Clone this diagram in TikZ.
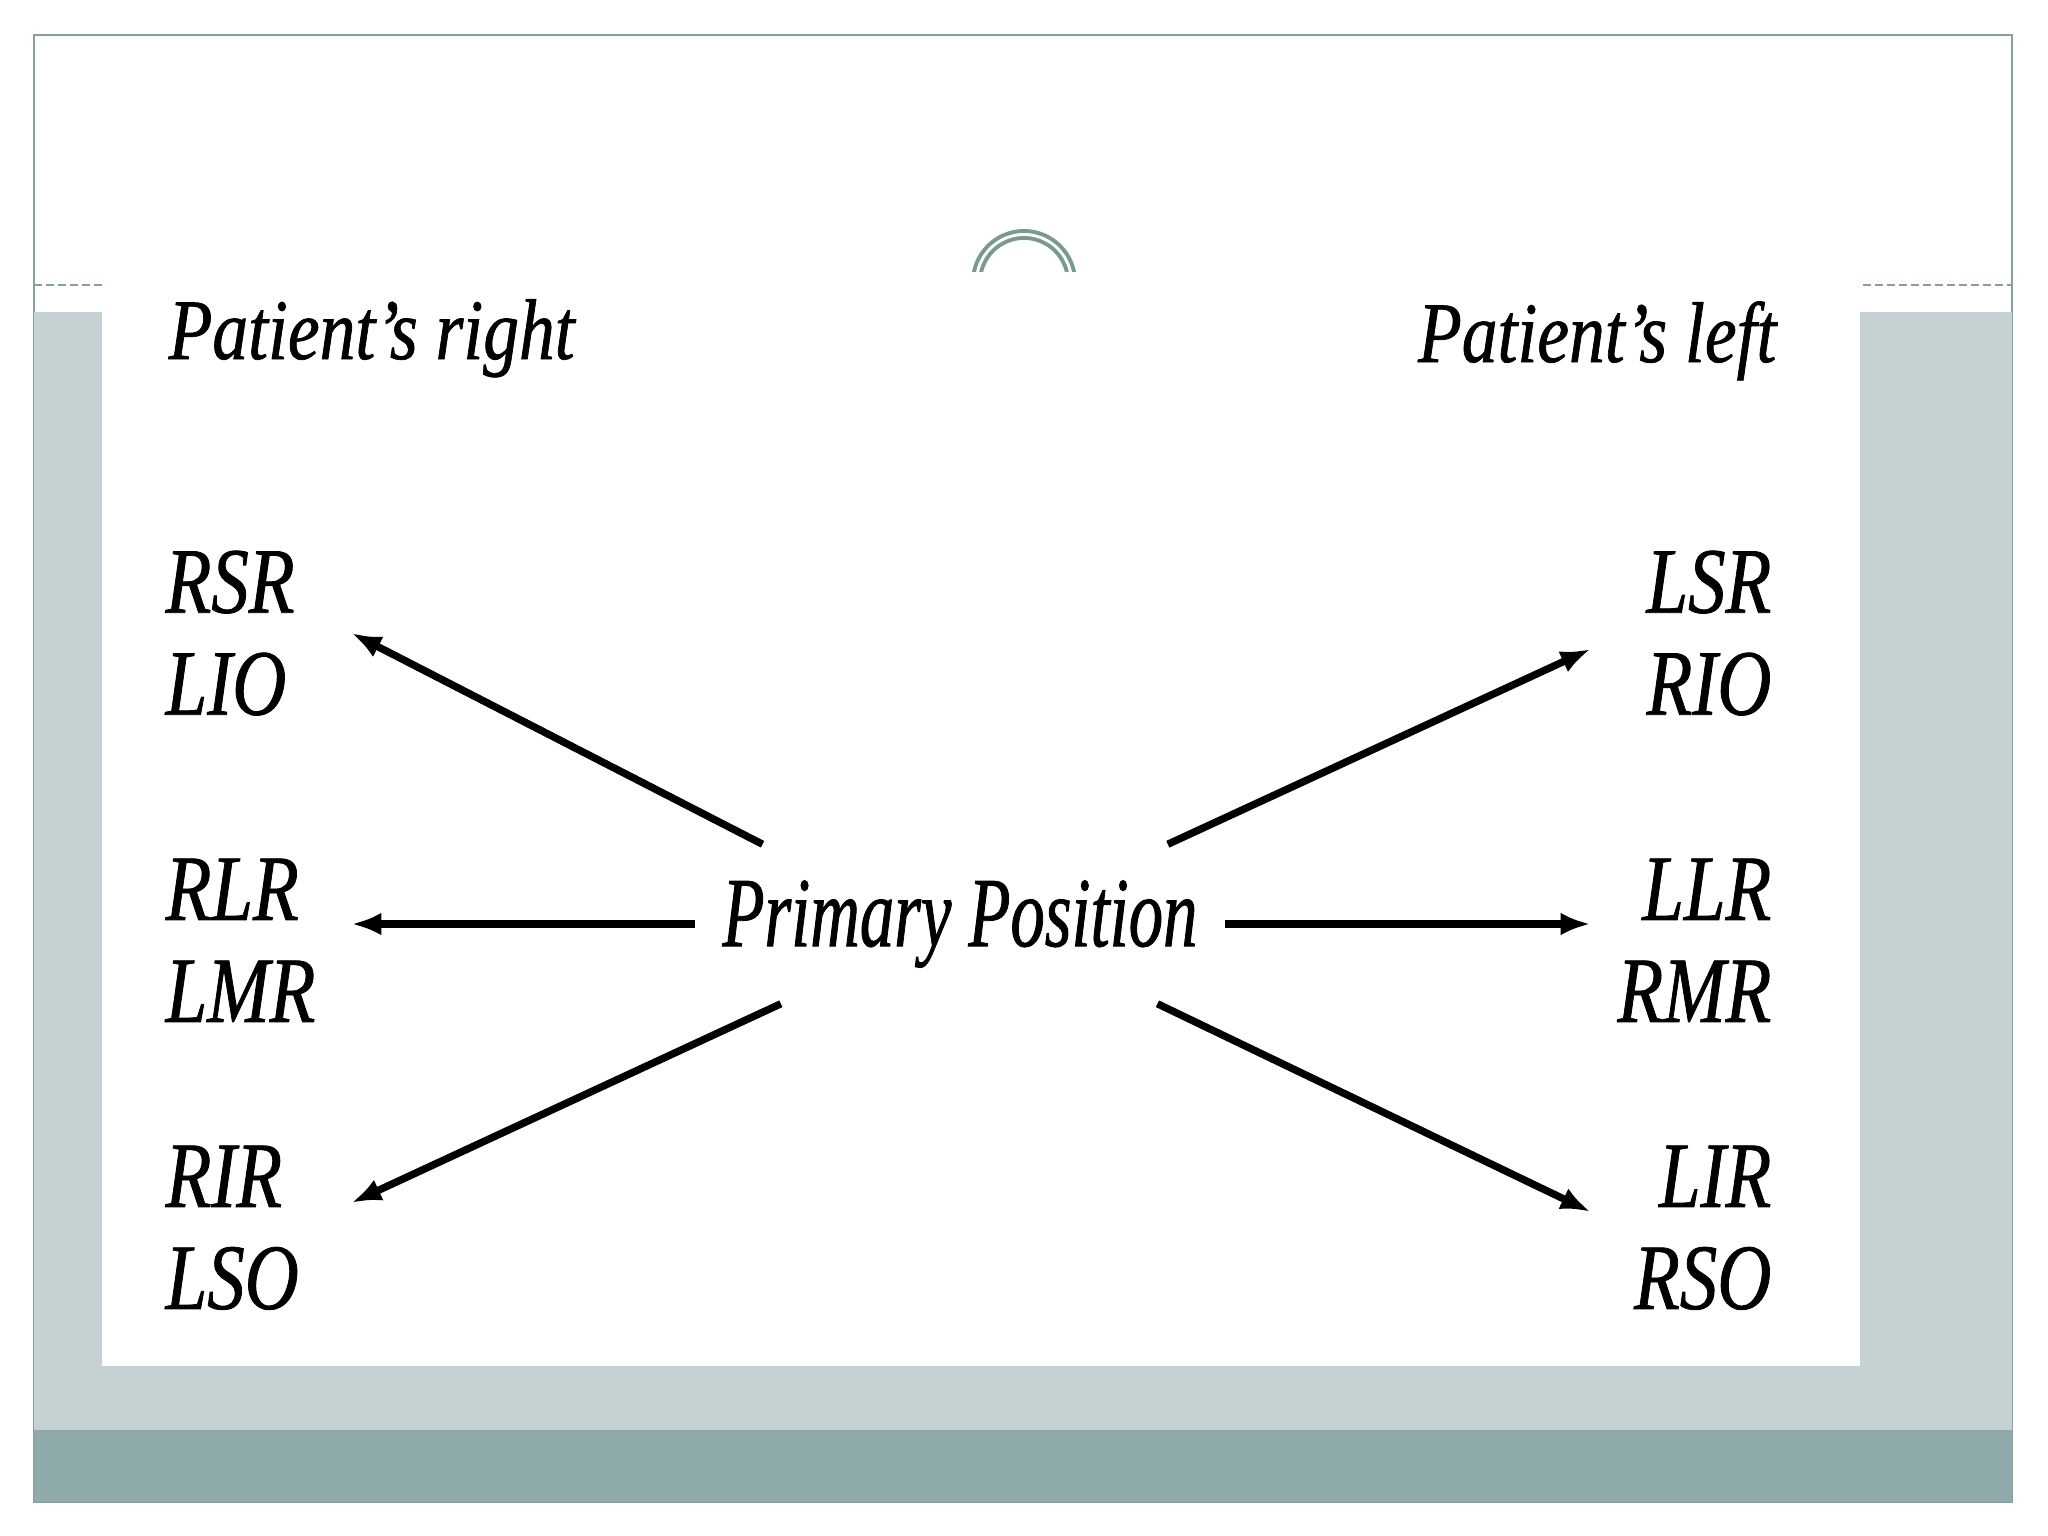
\documentclass[tikz,border=0pt]{standalone}
\usepackage{fontspec}
\setmainfont{Liberation Serif}
\newfontfamily\labelfont[FakeStretch=0.80, FakeBold=0.8]{Liberation Serif}
\newfontfamily\headfont[FakeStretch=0.83, FakeBold=0.8]{Liberation Serif}
\newfontfamily\ppfont[FakeStretch=0.69, FakeBold=0.8]{Liberation Serif}
\usetikzlibrary{arrows.meta}
\definecolor{slidegrey}{HTML}{C5D1D3}
\definecolor{slideteal}{HTML}{8EAAAB}
\definecolor{slideline}{HTML}{8A9E9C}
\definecolor{slidearc}{HTML}{7A9A90}

\begin{document}
\begin{tikzpicture}[x=0.01cm, y=-0.01cm,
        every node/.style={inner sep=0pt, font=\labelfont\itshape\fontsize{26.6}{29}\selectfont},
        pairl/.style={text width=1.85cm, align=left, anchor=north west},
        pairr/.style={text width=1.80cm, align=right, anchor=north east},
        heading/.style={font=\headfont\itshape\fontsize{24.5}{28}\selectfont},
        arr/.style={line width=2.1pt, -{Latex[length=8.5pt,width=6.5pt]}}]
        \useasboundingbox (0,0) rectangle (2048,1536);
        % slide frame
        \fill[white] (0,0) rectangle (2048,1536);
        \draw[slideline, line width=0.6pt] (34,35) rectangle (2012,1502);
        \draw[slideline, line width=0.6pt, dash pattern=on 2.3pt off 1.1pt] (34,285) -- (2012,285);
        \fill[slidegrey] (34,312) rectangle (2012,1430);
        \fill[slideteal] (34,1430) rectangle (2012,1502);
        \draw[slidearc, line width=1.1pt] (1024,282) circle (0.51cm);
        \draw[slidearc, line width=1.1pt] (1024,282) circle (0.44cm);
        % picture
        \fill[white] (102,272) rectangle (1860,1366);
        \node[heading, anchor=base west] (hright) at (168,359) {Patient’s right};
        \node[heading, anchor=base east] (hleft) at (1777,362) {Patient’s left};
        \foreach \n/\y/\a/\b in {rsr/550/RSR/LIO, rlr/858/RLR/LMR, rir/1145/RIR/LSO} {
            \node[pairl] (\n) at (165,\y) {\a\\\b};
        }
        \foreach \n/\y/\a/\b in {lsr/550/LSR/RIO, llr/858/LLR/RMR, lir/1145/LIR/RSO} {
            \node[pairr] (\n) at (1772,\y) {\a\\\b};
        }
        \node[minimum width=5.28cm, minimum height=1.58cm, font=\ppfont\itshape\fontsize{28.3}{32}\selectfont] (pp) at (960,924) {Primary Position};
        \draw[arr] (pp.158) -- (rsr.east);
        \draw[arr] (pp.west) -- (pp.west -| rlr.east);
        \draw[arr] (pp.204) -- (rir.15);
        \draw[arr] (pp.21) -- (lsr.190);
        \draw[arr] (pp.east) -- (pp.east -| llr.west);
        \draw[arr] (pp.338) -- (lir.170);
    \end{tikzpicture}
\end{document}
